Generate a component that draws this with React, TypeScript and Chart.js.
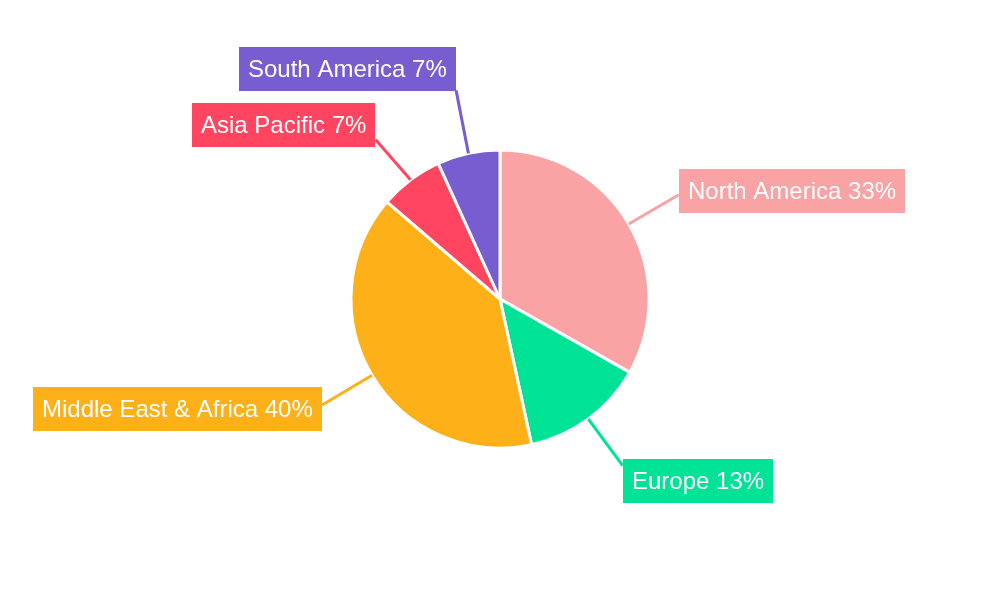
import React, { useEffect, useRef } from "react";
import { Chart, registerables } from "chart.js";

Chart.register(...registerables);

const regions = ["North America", "Europe", "Middle East & Africa", "Asia Pacific", "South America"];
const shares = [33.2, 13.4, 39.7, 6.9, 6.8];
const colors = ["#F9A3A4", "#00E396", "#FEB019", "#FF4560", "#775DD0"];

const FONT = '24px "Liberation Sans", Arial, sans-serif';

const leaderLabels = {
  id: "leaderLabels",
  afterDatasetsDraw(chart: any) {
    const ctx = chart.ctx as CanvasRenderingContext2D;
    const meta = chart.getDatasetMeta(0);
    const data = chart.data.datasets[0].data as number[];
    const total = data.reduce((a, b) => a + b, 0);
    const bg = chart.data.datasets[0].backgroundColor as string[];
    ctx.save();
    ctx.font = FONT;
    const lineLen = 58;
    const h = 44;
    const gap = 12;
    const padX = 9;
    const items = meta.data.map((arc: any, i: number) => {
      const p = arc.getProps(["x", "y", "startAngle", "endAngle", "outerRadius"], true);
      const mid = (p.startAngle + p.endAngle) / 2;
      const dx = Math.cos(mid);
      const dy = Math.sin(mid);
      const sx = p.x + dx * p.outerRadius;
      const sy = p.y + dy * p.outerRadius;
      const ex = p.x + dx * (p.outerRadius + lineLen);
      const ey = p.y + dy * (p.outerRadius + lineLen);
      const text = `${chart.data.labels[i]} ${Math.round((data[i] / total) * 100)}%`;
      const w = ctx.measureText(text).width + padX * 2;
      const k = Math.max(0, (Math.abs(dy) - 0.4) / 0.6);
      const cy = ey + Math.sign(dy) * (h / 2) * k;
      return { i, sx, sy, ex, ey, cy, w, text, right: dx >= 0 };
    });
    [true, false].forEach((side) => {
      const group = items.filter((it: any) => it.right === side).sort((a: any, b: any) => a.cy - b.cy);
      for (let j = 1; j < group.length; j++) {
        const a = group[j - 1];
        const b = group[j];
        const need = h + gap - (b.cy - a.cy);
        if (need > 0) {
          a.cy -= need / 2;
          a.ey -= need / 2;
          b.cy += need / 2;
          b.ey += need / 2;
        }
      }
    });
    items.forEach((it: any) => {
      ctx.strokeStyle = bg[it.i];
      ctx.lineWidth = 3;
      ctx.beginPath();
      ctx.moveTo(it.sx, it.sy);
      ctx.lineTo(it.ex, it.ey);
      ctx.stroke();
    });
    items.forEach((it: any) => {
      const left = it.right ? it.ex : it.ex - it.w;
      const top = it.cy - h / 2;
      ctx.fillStyle = bg[it.i];
      ctx.fillRect(Math.round(left), Math.round(top), Math.round(it.w), h);
      ctx.fillStyle = "#ffffff";
      ctx.textBaseline = "middle";
      ctx.textAlign = "left";
      ctx.fillText(it.text, Math.round(left) + padX, Math.round(top) + h / 2 + 1);
    });
    ctx.restore();
  },
};

export default function App() {
  const ref = useRef<HTMLCanvasElement>(null);
  useEffect(() => {
    document.body.style.margin = "0";
    const chart = new Chart(ref.current as HTMLCanvasElement, {
      type: "pie",
      data: {
        labels: regions,
        datasets: [
          {
            data: shares,
            backgroundColor: colors,
            borderColor: "#ffffff",
            borderWidth: 3,
            radius: 149,
          },
        ],
      },
      options: {
        responsive: false,
        animation: false,
        layout: { padding: { top: 0, bottom: 2 } },
        plugins: { legend: { display: false }, tooltip: { enabled: false } },
      },
      plugins: [leaderLabels],
    });
    return () => chart.destroy();
  }, []);
  return (
    <div style={{ width: 1000, height: 600, background: "#fff" }}>
      <canvas ref={ref} width={1000} height={600} />
    </div>
  );
}
